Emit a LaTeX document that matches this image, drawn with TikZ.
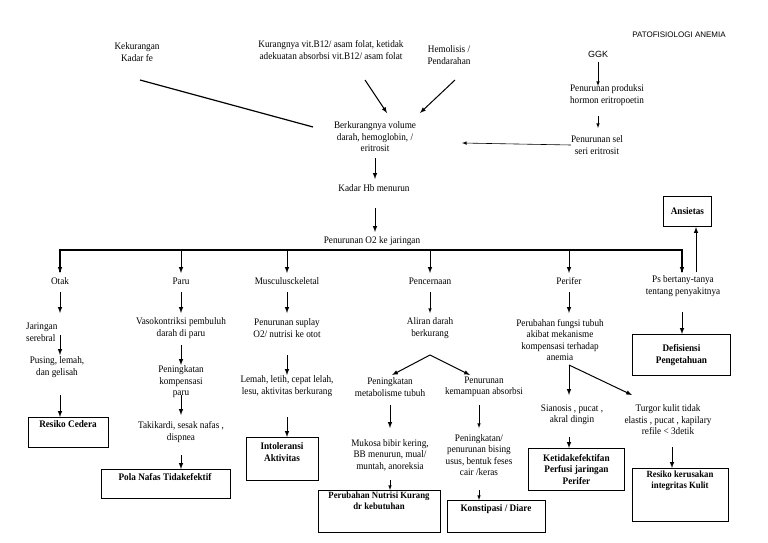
\documentclass[tikz,border=0pt]{standalone}
\usepackage{fontspec}
\setmainfont{Liberation Serif}[FakeStretch=0.92]
\newfontfamily\sansf{Liberation Sans}
\begin{document}
\begin{tikzpicture}[x=1pt,y=-1pt,
 t/.style={inner sep=0pt,align=center,font=\fontsize{10}{11.5}\selectfont},
 bx/.style={draw,line width=0.9pt,inner sep=2pt,align=center,anchor=north west,font=\bfseries\fontsize{10}{11.5}\selectfont},
 ar/.style={-latex,line width=1pt},
 thin/.style={-latex,line width=0.6pt}]
\useasboundingbox (0,0) rectangle (768,543);
\node[t,font=\sansf\fontsize{8}{9}\selectfont] (title) at (679,35) {PATOFISIOLOGI ANEMIA};
\node[t] (fe) at (137,52) {Kekurangan\\Kadar fe};
\node[t] (vit) at (331,50) {Kurangnya vit.B12/ asam folat, ketidak\\adekuatan absorbsi vit.B12/ asam folat};
\node[t] (hem) at (449,55) {Hemolisis /\\Pendarahan};
\node[t,font=\sansf\fontsize{9}{10}\selectfont] (ggk) at (598,54) {GGK};
\node[t] (prod) at (607,95) {Penurunan produksi\\hormon eritropoetin};
\node[t] (sel) at (597,145) {Penurunan sel\\seri eritrosit};
\node[t] (berk) at (375,137) {Berkurangnya volume\\darah, hemoglobin, /\\eritrosit};
\node[t] (hb) at (374,188) {Kadar Hb menurun};
\node[t] (o2) at (372,241) {Penurunan O2 ke jaringan};
\coordinate (fe1) at (140,80); \coordinate (fe2) at (313,127);
\draw[line width=1.2pt] (fe1) -- (fe2);
\coordinate (v1) at (365,80); \coordinate (v2) at (387,113);
\draw[ar] (v1) -- (v2);
\coordinate (h1) at (455,80); \coordinate (h2) at (420,113);
\draw[ar] (h1) -- (h2);
\draw[thin] (598,62) -- (598,86);
\draw[thin] (598,116) -- (598,128);
\coordinate (s1) at (462,143);
\draw[thin] (sel.west) -- (s1);
\draw[ar] (375,158) -- (375,179);
\draw[ar] (375,208) -- (375,232);
% branch
\draw[line width=1.2pt] (60,272) -- (60,250) -- (682,250) -- (682,272);
\foreach \x in {60,181,287,430,569,682} \draw[ar] (\x,250) -- (\x,273);
\node[t] (otak) at (60,281) {Otak};
\node[t] (paru) at (181,281) {Paru};
\node[t] (musc) at (287,281) {Musculusckeletal};
\node[t] (penc) at (430,281) {Pencernaan};
\node[t] (perif) at (569,281) {Perifer};
\node[t] (ps) at (683,286) {Ps bertany-tanya\\tentang penyakitnya};
\node[bx,minimum width=48pt,minimum height=30pt] (ans) at (663,196) {Ansietas};
\draw[ar] (696,272) -- (696,227);
% Otak
\node[t,align=left,anchor=west] (jar) at (26,332) {Jaringan\\serebral};
\node[t] (pus) at (57,367) {Pusing, lemah,\\dan gelisah};
\node[bx,minimum width=80pt,minimum height=30pt,inner sep=0pt] (rc) at (28,417) {};
\node[t,font=\bfseries\fontsize{10}{11.5}\selectfont] (rct) at (68,424) {Resiko Cedera};
\draw[ar] (60,292) -- (60,313);
\draw[ar] (60,335) -- (60,355);
\draw[ar] (60,395) -- (60,417);
% Paru
\node[t] (vaso) at (181,328) {Vasokontriksi pembuluh\\darah di paru};
\node[t] (pkp) at (181,382) {Peningkatan\\kompensasi\\paru};
\node[t] (tak) at (181,432) {Takikardi, sesak nafas ,\\dispnea};
\node[bx,minimum width=129pt,minimum height=29pt,inner sep=0pt] (pola) at (101,469) {};
\node[t,font=\bfseries\fontsize{10}{11.5}\selectfont] (polat) at (165,477) {Pola Nafas Tidakefektif};
\draw[ar] (181,292) -- (181,313);
\draw[ar] (181,345) -- (181,365);
\draw[ar] (181,395) -- (181,415);
\draw[ar] (181,455) -- (181,469);
% Musculo
\node[t] (sup) at (287,328) {Penurunan suplay\\O2/ nutrisi ke otot};
\node[t] (lem) at (287,386) {Lemah, letih, cepat lelah,\\lesu, aktivitas berkurang};
\node[bx,minimum width=72pt,minimum height=43pt,inner sep=0pt] (into) at (246,437) {};
\node[t,font=\bfseries\fontsize{10}{11.5}\selectfont] (intot) at (282,452) {Intoleransi\\Aktivitas};
\draw[ar] (287,292) -- (287,313);
\draw[ar] (287,355) -- (287,375);
\draw[ar] (287,417) -- (287,437);
% Pencernaan
\node[t] (ali) at (430,328) {Aliran darah\\berkurang};
\coordinate (apex) at (430,355);
\node[t] (met) at (390,387) {Peningkatan\\metabolisme tubuh};
\node[t] (abs) at (484,387) {Penurunan\\kemampuan absorbsi};
\node[t] (muk) at (390,455) {Mukosa bibir kering,\\BB menurun, mual/\\muntah, anoreksia};
\node[t] (bis) at (479,455) {Peningkatan/\\penurunan bising\\usus, bentuk feses\\cair /keras};
\node[bx,minimum width=122pt,minimum height=42pt,inner sep=0pt] (nut) at (318,490) {};
\node[t,font=\bfseries\fontsize{9.5}{11}\selectfont,anchor=north] (nutt) at (379,492) {Perubahan Nutrisi Kurang\\dr kebutuhan};
\node[bx,minimum width=98pt,minimum height=32pt,inner sep=0pt] (kons) at (447,500) {};
\node[t,font=\bfseries\fontsize{10}{11.5}\selectfont] (konst) at (496,509) {Konstipasi / Diare};
\draw[thin] (430,292) -- (430,313);
\draw[ar] (apex) -- (392,375);
\draw[ar] (apex) -- (470,375);
\draw[ar] (390,405) -- (390,428);
\draw[thin] (479,405) -- (479,428);
\draw[thin] (390,480) -- (390,490);
\draw[thin] (479,490) -- (479,500);
% Perifer
\node[t] (fung) at (560,340) {Perubahan fungsi tubuh\\akibat mekanisme\\kompensasi terhadap\\anemia};
\coordinate (pf) at (569,365);
\node[t] (sia) at (572,415) {Sianosis , pucat ,\\akral dingin};
\node[t] (tur) at (668,420) {Turgor kulit tidak\\elastis , pucat , kapilary\\refile < 3detik};
\node[bx,minimum width=96pt,minimum height=42pt] (ket) at (528,448) {Ketidakefektifan\\Perfusi jaringan\\Perifer};
\node[bx,line width=1.4pt,minimum width=96pt,minimum height=53pt,inner sep=0pt] (kul) at (632,468) {};
\node[t,font=\bfseries\fontsize{9.5}{11}\selectfont,anchor=north] (kult) at (680,471) {Resiko kerusakan\\integritas Kulit};
\draw[ar] (569,292) -- (569,313);
\draw[ar] (pf) -- (569,395);
\draw[ar] (pf) -- (632,395);
\draw[ar] (569,437) -- (569,448);
\draw[ar] (672,447) -- (672,468);
% Ps
\node[bx,minimum width=98pt,minimum height=41pt] (def) at (632,334) {Defisiensi\\Pengetahuan};
\draw[ar] (682,312) -- (682,334);
\end{tikzpicture}
\end{document}
